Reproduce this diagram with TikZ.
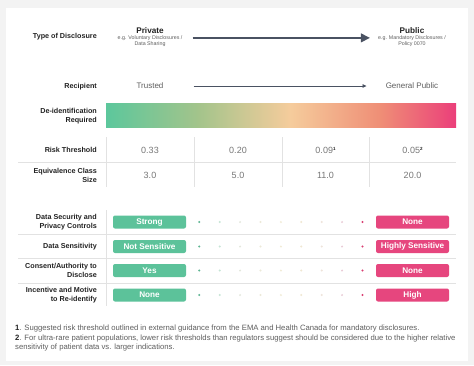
\documentclass[tikz,border=0pt]{standalone}
\usepackage{fontspec}
\setmainfont{Liberation Sans}
\usepackage{xcolor}
\usetikzlibrary{arrows.meta,positioning}
\definecolor{Ink}{HTML}{222222}
\definecolor{Slate}{HTML}{4A5262}
\definecolor{MGray}{HTML}{5E5E5E}
\definecolor{LGray}{HTML}{777777}
\definecolor{Rule}{HTML}{E2E2E2}
\definecolor{Page}{HTML}{F3F3F3}
\definecolor{GreenP}{HTML}{5CC29A}
\definecolor{PinkP}{HTML}{E6467E}
\definecolor{GradA}{HTML}{5CC79C}
\definecolor{GradB}{HTML}{A3C48B}
\definecolor{GradC}{HTML}{F5CC9C}
\definecolor{GradD}{HTML}{EF8E76}
\definecolor{GradE}{HTML}{EB3F7A}
\definecolor{DotA}{HTML}{5DB592}
\definecolor{DotB}{HTML}{C6E5D5}
\definecolor{DotC}{HTML}{E3E7DC}
\definecolor{DotD}{HTML}{ECE9D8}
\definecolor{DotE}{HTML}{F1EBD5}
\definecolor{DotF}{HTML}{F0E7D2}
\definecolor{DotG}{HTML}{EEE3DA}
\definecolor{DotH}{HTML}{E9CBD6}
\definecolor{DotI}{HTML}{D93F72}
\newcommand{\fnmark}[1]{\raisebox{2.5pt}{\fontsize{4.5}{5}\selectfont\bfseries\color{Ink}#1}}

\begin{document}
\begin{tikzpicture}[x=1pt,y=-1pt,
    lbl/.style={anchor=east,align=right,inner sep=0pt,text=Ink,
      font=\fontsize{7.2}{9}\selectfont\bfseries},
    hdr/.style={inner sep=0pt,text=Ink,font=\fontsize{8.2}{9}\selectfont\bfseries},
    sub/.style={inner sep=0pt,align=center,text=MGray,font=\fontsize{5.3}{6}\selectfont},
    aud/.style={inner sep=0pt,text=MGray,font=\fontsize{8}{9}\selectfont},
    val/.style={inner sep=0pt,text=LGray,font=\fontsize{9}{10}\selectfont},
    pill/.style={rounded corners=2pt,minimum width=73pt,minimum height=13pt,inner sep=0pt,
      text=white,font=\fontsize{8.2}{9}\selectfont\bfseries},
    rule/.style={draw=Rule,line width=0.6pt},
    >=Stealth]
  \fill[Page] (0,0) rectangle (474,365);
  \fill[white] (6,8) rectangle (468,361);
  \useasboundingbox (0,0) rectangle (474,365);
  % disclosure and recipient
  \node[lbl] (typ) at (97,37) {Type of Disclosure};
  \node[hdr] (priv) at (150,30.5) {Private};
  \node[sub, below=2pt of priv] (privsub) {e.g. Voluntary Disclosures /\\Data Sharing};
  \node[hdr] (pub) at (412,30.5) {Public};
  \node[sub, below=2pt of pub] (pubsub) {e.g. Mandatory Disclosures /\\Policy 0070};
  \draw[Slate,line width=2.6pt,-{Triangle[length=9pt,width=8.5pt]},shorten <=10pt,shorten >=8pt]
    ([yshift=3.5pt]privsub.east) -- ([yshift=3.5pt]privsub.east -| pubsub.west);
  \node[lbl] (recip) at (97,87) {Recipient};
  \node[aud] (trust) at (150,86) {Trusted};
  \node[aud] (genpub) at (412,86) {General Public};
  \draw[Slate,line width=0.8pt,-{Triangle[length=4pt,width=3.5pt]},shorten <=30pt,shorten >=19pt]
    (trust) -- (genpub);
  % gradient bar
  \node[lbl] (deid) at (97,116) {De-identification\\Required};
  \shade[left color=GradA,right color=GradB] (106,103) rectangle (198.3,127);
  \shade[left color=GradB,right color=GradC] (198,103) rectangle (290.3,127);
  \shade[left color=GradC,right color=GradD] (290,103) rectangle (380.3,127);
  \shade[left color=GradD,right color=GradE] (380,103) rectangle (456,127);
  % thresholds
  \node[lbl] (risk) at (97,150) {Risk Threshold};
  \node[lbl] (eqv) at (97,175) {Equivalence Class\\Size};
  \foreach \x in {106,194,282,369} \draw[rule] (\x,137) -- (\x,187);
  \draw[rule] (18,162) -- (456,162);
  \foreach \r/\s/\x [count=\i] in {0.33/3.0/150, 0.20/5.0/238,
      {0.09\fnmark{1}}/11.0/325.5, {0.05\fnmark{2}}/20.0/412.5} {
    \node[val] (thr\i) at (\x,150) {\r};
    \node[val] (eqc\i) at (\x,175) {\s};
  }
  % factors
  \draw[rule] (106,210) -- (106,306);
  \foreach \y in {234,258.5,283} \draw[rule] (18,\y) -- (456,\y);
  \foreach \y/\lab/\good/\bad [count=\i] in {
      222/{Data Security and\\Privacy Controls}/Strong/None,
      246.5/{Data Sensitivity}/Not Sensitive/Highly Sensitive,
      270.5/{Consent/Authority to\\Disclose}/Yes/None,
      295/{Incentive and Motive\\to Re-identify}/None/High} {
    \node[lbl] (crit\i) at (97,\y) {\lab};
    \node[pill,fill=GreenP] (good\i) at (149.5,\y) {\good};
    \node[pill,fill=PinkP] (bad\i) at (412.5,\y) {\bad};
    \foreach \c [count=\j from 0] in {DotA,DotB,DotC,DotD,DotE,DotF,DotG,DotH,DotI}
      \fill[\c] ({199.3+20.4*\j},\y) circle (1.1pt);
  }
  % notes
  \node[anchor=north west,inner sep=0pt,align=left,text=MGray,
    font=\fontsize{7.7}{9.5}\selectfont] (notes) at (15,325)
    {{\bfseries\color{Ink}1}. Suggested risk threshold outlined in external guidance from the EMA and Health Canada for mandatory disclosures.\\
     {\bfseries\color{Ink}2}. For ultra-rare patient populations, lower risk thresholds than regulators suggest should be considered due to the higher relative\\
     sensitivity of patient data vs. larger indications.};
\end{tikzpicture}
\end{document}
